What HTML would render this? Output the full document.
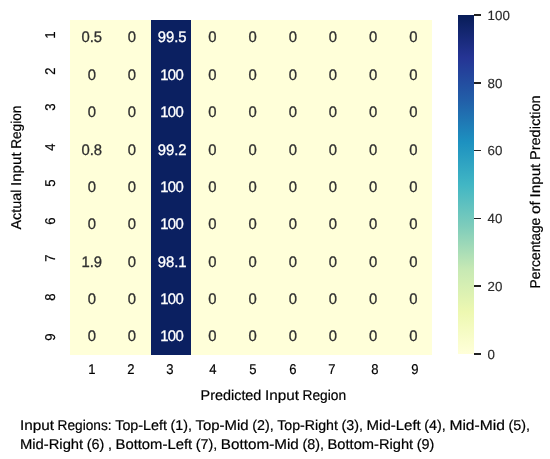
<!DOCTYPE html>
<html><head><meta charset="utf-8"><title>Heatmap</title>
<style>
html,body{margin:0;padding:0;background:#fff;}
body{text-rendering:geometricPrecision;width:550px;height:459px;position:relative;overflow:hidden;font-family:"Liberation Sans",sans-serif;color:#111;}
#hm{position:absolute;left:70.4px;top:19.5px;width:361.80px;height:335.30px;background:#ffffd9;}
#col{position:absolute;left:80.70px;top:0;width:39.80px;height:335.70px;background:#0b2061;}
.c{position:absolute;width:40.20px;height:37.26px;line-height:37.26px;text-align:center;font-size:14.85px;color:#303030;-webkit-text-stroke:0.3px currentColor;transform:scale(1.0,1.03);}
.c.d{color:#fff;}
.c.h{letter-spacing:-0.7px;text-indent:-1.1px;}
.yt span,.xt span{position:absolute;left:0;top:0;white-space:nowrap;line-height:16px;color:#000;-webkit-text-stroke:0.2px #000;}
.yt{position:absolute;left:50.8px;width:0;height:0;font-size:14.2px;}
.yt span{transform:translate(-50%,-50%) rotate(-90deg) scaleX(0.92);}
.xt{position:absolute;top:370.3px;width:0;height:0;font-size:14.2px;}
.xt span{transform:translate(-50%,-50%) scaleX(0.92);}
#cb{position:absolute;left:457.8px;top:15.2px;width:16.50px;height:338.60px;background:linear-gradient(to top,#ffffd9 0%,#edf8b1 12.5%,#c7e9b4 25%,#7fcdbb 37.5%,#41b6c4 50%,#1d91c0 62.5%,#225ea8 75%,#253494 87.5%,#081d58 100%);}
.tk{position:absolute;left:474.3px;width:7.0px;height:1.7px;background:#222;}
.tl{position:absolute;left:487.6px;font-size:13.3px;line-height:14px;margin-top:-7px;color:#2b2b2b;-webkit-text-stroke:0.15px #2b2b2b;}
.ln{position:absolute;height:16px;line-height:16px;font-size:14.2px;color:#000;white-space:nowrap;-webkit-text-stroke:0.2px #000;}
.w{position:absolute;left:0;top:0;transform-origin:0 50%;}
#xl{left:200.55px;top:388.00px;width:145.47px;}
#yl{left:-45.42px;top:159.25px;width:124.04px;transform:rotate(-90deg);}
#cl{left:439.30px;top:183.70px;width:193.21px;transform:rotate(-90deg);}
#cap1{left:20.0px;top:418.10px;width:510.09px;}
#cap2{left:20.0px;top:436.60px;width:414.50px;}
</style></head><body>
<div id="hm"><div id="col"></div>
<div class="c" style="left:1.30px;top:0.52px">0.5</div>
<div class="c" style="left:41.50px;top:0.52px">0</div>
<div class="c d" style="left:81.70px;top:0.52px">99.5</div>
<div class="c" style="left:121.90px;top:0.52px">0</div>
<div class="c" style="left:162.10px;top:0.52px">0</div>
<div class="c" style="left:202.30px;top:0.52px">0</div>
<div class="c" style="left:242.50px;top:0.52px">0</div>
<div class="c" style="left:282.70px;top:0.52px">0</div>
<div class="c" style="left:322.90px;top:0.52px">0</div>
<div class="c" style="left:1.30px;top:38.86px">0</div>
<div class="c" style="left:41.50px;top:38.86px">0</div>
<div class="c d h" style="left:81.70px;top:38.86px">100</div>
<div class="c" style="left:121.90px;top:38.86px">0</div>
<div class="c" style="left:162.10px;top:38.86px">0</div>
<div class="c" style="left:202.30px;top:38.86px">0</div>
<div class="c" style="left:242.50px;top:38.86px">0</div>
<div class="c" style="left:282.70px;top:38.86px">0</div>
<div class="c" style="left:322.90px;top:38.86px">0</div>
<div class="c" style="left:1.30px;top:75.20px">0</div>
<div class="c" style="left:41.50px;top:75.20px">0</div>
<div class="c d h" style="left:81.70px;top:75.20px">100</div>
<div class="c" style="left:121.90px;top:75.20px">0</div>
<div class="c" style="left:162.10px;top:75.20px">0</div>
<div class="c" style="left:202.30px;top:75.20px">0</div>
<div class="c" style="left:242.50px;top:75.20px">0</div>
<div class="c" style="left:282.70px;top:75.20px">0</div>
<div class="c" style="left:322.90px;top:75.20px">0</div>
<div class="c" style="left:1.30px;top:113.54px">0.8</div>
<div class="c" style="left:41.50px;top:113.54px">0</div>
<div class="c d" style="left:81.70px;top:113.54px">99.2</div>
<div class="c" style="left:121.90px;top:113.54px">0</div>
<div class="c" style="left:162.10px;top:113.54px">0</div>
<div class="c" style="left:202.30px;top:113.54px">0</div>
<div class="c" style="left:242.50px;top:113.54px">0</div>
<div class="c" style="left:282.70px;top:113.54px">0</div>
<div class="c" style="left:322.90px;top:113.54px">0</div>
<div class="c" style="left:1.30px;top:150.88px">0</div>
<div class="c" style="left:41.50px;top:150.88px">0</div>
<div class="c d h" style="left:81.70px;top:150.88px">100</div>
<div class="c" style="left:121.90px;top:150.88px">0</div>
<div class="c" style="left:162.10px;top:150.88px">0</div>
<div class="c" style="left:202.30px;top:150.88px">0</div>
<div class="c" style="left:242.50px;top:150.88px">0</div>
<div class="c" style="left:282.70px;top:150.88px">0</div>
<div class="c" style="left:322.90px;top:150.88px">0</div>
<div class="c" style="left:1.30px;top:187.22px">0</div>
<div class="c" style="left:41.50px;top:187.22px">0</div>
<div class="c d h" style="left:81.70px;top:187.22px">100</div>
<div class="c" style="left:121.90px;top:187.22px">0</div>
<div class="c" style="left:162.10px;top:187.22px">0</div>
<div class="c" style="left:202.30px;top:187.22px">0</div>
<div class="c" style="left:242.50px;top:187.22px">0</div>
<div class="c" style="left:282.70px;top:187.22px">0</div>
<div class="c" style="left:322.90px;top:187.22px">0</div>
<div class="c" style="left:1.30px;top:225.56px">1.9</div>
<div class="c" style="left:41.50px;top:225.56px">0</div>
<div class="c d" style="left:81.70px;top:225.56px">98.1</div>
<div class="c" style="left:121.90px;top:225.56px">0</div>
<div class="c" style="left:162.10px;top:225.56px">0</div>
<div class="c" style="left:202.30px;top:225.56px">0</div>
<div class="c" style="left:242.50px;top:225.56px">0</div>
<div class="c" style="left:282.70px;top:225.56px">0</div>
<div class="c" style="left:322.90px;top:225.56px">0</div>
<div class="c" style="left:1.30px;top:262.90px">0</div>
<div class="c" style="left:41.50px;top:262.90px">0</div>
<div class="c d h" style="left:81.70px;top:262.90px">100</div>
<div class="c" style="left:121.90px;top:262.90px">0</div>
<div class="c" style="left:162.10px;top:262.90px">0</div>
<div class="c" style="left:202.30px;top:262.90px">0</div>
<div class="c" style="left:242.50px;top:262.90px">0</div>
<div class="c" style="left:282.70px;top:262.90px">0</div>
<div class="c" style="left:322.90px;top:262.90px">0</div>
<div class="c" style="left:1.30px;top:299.24px">0</div>
<div class="c" style="left:41.50px;top:299.24px">0</div>
<div class="c d h" style="left:81.70px;top:299.24px">100</div>
<div class="c" style="left:121.90px;top:299.24px">0</div>
<div class="c" style="left:162.10px;top:299.24px">0</div>
<div class="c" style="left:202.30px;top:299.24px">0</div>
<div class="c" style="left:242.50px;top:299.24px">0</div>
<div class="c" style="left:282.70px;top:299.24px">0</div>
<div class="c" style="left:322.90px;top:299.24px">0</div>
</div>
<div class="yt" style="top:34.80px"><span>1</span></div>
<div class="yt" style="top:71.30px"><span>2</span></div>
<div class="yt" style="top:107.20px"><span>3</span></div>
<div class="yt" style="top:146.50px"><span>4</span></div>
<div class="yt" style="top:183.00px"><span>5</span></div>
<div class="yt" style="top:221.00px"><span>6</span></div>
<div class="yt" style="top:257.90px"><span>7</span></div>
<div class="yt" style="top:297.00px"><span>8</span></div>
<div class="yt" style="top:337.10px"><span>9</span></div>
<div class="xt" style="left:91.60px"><span>1</span></div>
<div class="xt" style="left:130.70px"><span>2</span></div>
<div class="xt" style="left:170.10px"><span>3</span></div>
<div class="xt" style="left:212.80px"><span>4</span></div>
<div class="xt" style="left:253.10px"><span>5</span></div>
<div class="xt" style="left:292.70px"><span>6</span></div>
<div class="xt" style="left:331.80px"><span>7</span></div>
<div class="xt" style="left:375.10px"><span>8</span></div>
<div class="xt" style="left:414.50px"><span>9</span></div>
<div id="cb"></div>
<div class="tk" style="top:352.95px"></div><div class="tl" style="top:354.50px">0</div>
<div class="tk" style="top:285.23px"></div><div class="tl" style="top:286.78px">20</div>
<div class="tk" style="top:217.51px"></div><div class="tl" style="top:219.06px">40</div>
<div class="tk" style="top:149.79px"></div><div class="tl" style="top:151.34px">60</div>
<div class="tk" style="top:82.07px"></div><div class="tl" style="top:83.62px">80</div>
<div class="tk" style="top:14.35px"></div><div class="tl" style="top:15.90px">100</div>
<div id="xl" class="ln"><span class="w" style="transform:translateX(-0.40px) scaleX(1.0140)">Predicted</span> <span class="w" style="transform:translateX(63.98px) scaleX(1.0753)">Input</span> <span class="w" style="transform:translateX(101.49px) scaleX(0.9685)">Region</span></div>
<div id="yl" class="ln"><span class="w" style="transform:translateX(-0.60px) scaleX(1.0147)">Actual</span> <span class="w" style="transform:translateX(42.97px) scaleX(1.0671)">Input</span> <span class="w" style="transform:translateX(80.19px) scaleX(0.9611)">Region</span></div>
<div id="cl" class="ln"><span class="w" style="transform:translateX(0.10px) scaleX(0.9760)">Percentage</span> <span class="w" style="transform:translateX(74.52px) scaleX(1.1009)">of</span> <span class="w" style="transform:translateX(91.10px) scaleX(1.0726)">Input</span> <span class="w" style="transform:translateX(128.52px) scaleX(1.0260)">Prediction</span></div>
<div id="cap1" class="ln"><span class="w" style="transform:translateX(-0.10px) scaleX(1.0794)">Input</span> <span class="w" style="transform:translateX(37.55px) scaleX(0.9658)">Regions:</span> <span class="w" style="transform:translateX(95.25px) scaleX(1.0082)">Top-Left</span> <span class="w" style="transform:translateX(150.54px) scaleX(1.0083)">(1),</span> <span class="w" style="transform:translateX(175.58px) scaleX(1.0507)">Top-Mid</span> <span class="w" style="transform:translateX(232.21px) scaleX(1.0083)">(2),</span> <span class="w" style="transform:translateX(257.25px) scaleX(0.9988)">Top-Right</span> <span class="w" style="transform:translateX(321.51px) scaleX(1.0083)">(3),</span> <span class="w" style="transform:translateX(346.55px) scaleX(1.0572)">Mid-Left</span> <span class="w" style="transform:translateX(404.35px) scaleX(1.0083)">(4),</span> <span class="w" style="transform:translateX(429.39px) scaleX(1.1006)">Mid-Mid</span> <span class="w" style="transform:translateX(488.52px) scaleX(1.0083)">(5),</span></div>
<div id="cap2" class="ln"><span class="w" style="transform:translateX(-0.10px) scaleX(1.0428)">Mid-Right</span> <span class="w" style="transform:translateX(66.83px) scaleX(1.0135)">(6)</span> <span class="w" style="transform:translateX(88.00px) scaleX(0.9993)">,</span> <span class="w" style="transform:translateX(95.51px) scaleX(1.0447)">Bottom-Left</span> <span class="w" style="transform:translateX(175.76px) scaleX(1.0109)">(7),</span> <span class="w" style="transform:translateX(200.87px) scaleX(1.0747)">Bottom-Mid</span> <span class="w" style="transform:translateX(282.46px) scaleX(1.0109)">(8),</span> <span class="w" style="transform:translateX(307.56px) scaleX(1.0339)">Bottom-Right</span> <span class="w" style="transform:translateX(396.81px) scaleX(1.0135)">(9)</span></div>
</body></html>
